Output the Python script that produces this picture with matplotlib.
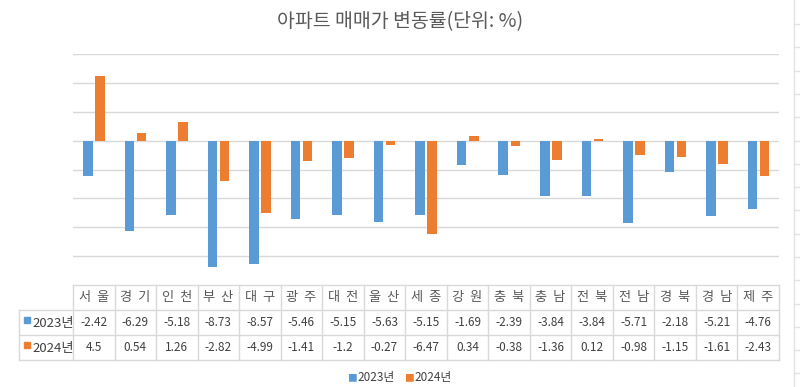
import matplotlib
matplotlib.use("Agg")
import matplotlib.pyplot as plt
import numpy as np

plt.rcParams['font.family'] = ['Noto Sans CJK KR', 'DejaVu Sans']

regions = ["서울", "경기", "인천", "부산", "대구", "광주", "대전", "울산", "세종",
           "강원", "충북", "충남", "전북", "전남", "경북", "경남", "제주"]
y2023 = [-2.42, -6.29, -5.18, -8.73, -8.57, -5.46, -5.15, -5.63, -5.15,
         -1.69, -2.39, -3.84, -3.84, -5.71, -2.18, -5.21, -4.76]
y2024 = [4.5, 0.54, 1.26, -2.82, -4.99, -1.41, -1.2, -0.27, -6.47,
         0.34, -0.38, -1.36, 0.12, -0.98, -1.15, -1.61, -2.43]
y2023_txt = ["-2.42", "-6.29", "-5.18", "-8.73", "-8.57", "-5.46", "-5.15", "-5.63", "-5.15",
             "-1.69", "-2.39", "-3.84", "-3.84", "-5.71", "-2.18", "-5.21", "-4.76"]
y2024_txt = ["4.5", "0.54", "1.26", "-2.82", "-4.99", "-1.41", "-1.2", "-0.27", "-6.47",
             "0.34", "-0.38", "-1.36", "0.12", "-0.98", "-1.15", "-1.61", "-2.43"]
series = ["2023년", "2024년"]

blue = "#5b9bd5"
orange = "#ed7d31"
grid_c = "#d9d9d9"
txt_c = "#404040"

W, H = 800, 387
fig = plt.figure(figsize=(8, 3.87), dpi=100)

# main plot area (pixel coords from the reference)
x0, x1 = 73, 779
ax = fig.add_axes([x0 / W, 1 - 285 / H, (x1 - x0) / W, (285 - 54) / H])
x = np.arange(len(regions))
ax.bar(x - 0.14, y2023, width=0.23, color=blue, zorder=3)
ax.bar(x + 0.15, y2024, width=0.23, color=orange, zorder=3)
ax.set_xlim(-0.5, len(regions) - 0.5)
ax.set_ylim(-10, 6)
for g in range(-8, 7, 2):
    ax.axhline(g, color=grid_c, lw=1, zorder=1)
ax.set_xticks([])
ax.set_yticks([])
for s in ax.spines.values():
    s.set_visible(False)

fig.text(0.5, 1 - 22 / H, "아파트 매매가 변동률(단위: %)", ha="center", va="center",
         fontsize=14, color="#595959")

# data table below the bars
tax = fig.add_axes([x0 / W, 1 - 360 / H, (x1 - x0) / W, 75 / H])
tax.set_xlim(-0.5, len(regions) - 0.5)
tax.set_ylim(0, 3)
tax.axis("off")
left = -0.5 - (x0 - 19) / ((x1 - x0) / len(regions))
kw = dict(color=grid_c, lw=1, clip_on=False)
tax.plot([-0.5, 16.5], [3, 3], **kw)
for yy in [0, 1, 2]:
    tax.plot([left, 16.5], [yy, yy], **kw)
tax.plot([left, left], [0, 2], **kw)
for i in range(len(regions) + 1):
    tax.plot([i - 0.5, i - 0.5], [0, 3], **kw)
for i, r in enumerate(regions):
    tax.text(i, 2.5, "  ".join(r), ha="center", va="center", fontsize=9.5, color="#595959")
    tax.text(i, 1.5, y2023_txt[i], ha="center", va="center", fontsize=8.5, color=txt_c)
    tax.text(i, 0.5, y2024_txt[i], ha="center", va="center", fontsize=8.5, color=txt_c)
for row, name, col in [(1.5, series[0], blue), (0.5, series[1], orange)]:
    tax.plot([left + 0.2], [row + 0.12], marker="s", ms=4.5, color=col, clip_on=False)
    tax.text(left + 0.33, row - 0.05, name, ha="left", va="center", fontsize=9.5,
             color=txt_c, clip_on=False)

# legend at the bottom
ly = 1 - 378 / H
fig.text(352 / W, ly, "■", color=blue, fontsize=7, ha="center", va="center")
fig.text(357 / W, ly, series[0], color=txt_c, fontsize=8.5, ha="left", va="center")
fig.text(409 / W, ly, "■", color=orange, fontsize=7, ha="center", va="center")
fig.text(414 / W, ly, series[1], color=txt_c, fontsize=8.5, ha="left", va="center")

# spreadsheet cell border on the right
fig.add_artist(plt.Line2D([794 / W, 794 / W], [0, 1], color="#e3e3e3", lw=1))
for yy in np.arange(24, 387, 23.3):
    fig.add_artist(plt.Line2D([794 / W, 1], [1 - yy / H, 1 - yy / H], color="#e3e3e3", lw=1))

fig.savefig("out.png", dpi=100, facecolor="white")
